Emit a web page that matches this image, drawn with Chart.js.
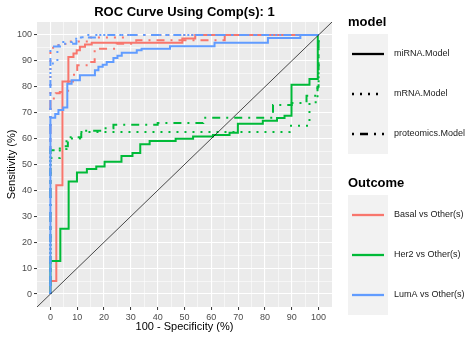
<!DOCTYPE html>
<html>
<head>
<meta charset="utf-8">
<title>ROC Curve</title>
<script src="https://cdn.jsdelivr.net/npm/chart.js@4/dist/chart.umd.min.js"></script>
<style>
  html, body { margin: 0; padding: 0; background: #fff; }
  canvas { display: block; }
</style>
</head>
<body>
<canvas id="roc" width="474" height="338"></canvas>
<script>
// ---- ROC points: 100 - specificity (x) and sensitivity (y), in % ----
const basalMirnaX = [0, 0, 2.2, 4.5, 6.7, 8.6, 9.8, 11, 12.9, 15.4, 49.2, 54, 100];
const basalMirnaY = [0, 5, 42, 82, 91.5, 92.8, 94.1, 95.4, 96.3, 97, 98.6, 100, 100];
const basalMrnaX = [0, 0, 1, 3, 6, 15, 28, 100];
const basalMrnaY = [0, 94, 95.5, 96.5, 97.5, 99, 100, 100];
const basalProtX = [0, 0, 2, 3.5, 6.6, 8.8, 10, 14, 16.5, 24.7, 32, 65, 100];
const basalProtY = [0, 75.5, 77.5, 78, 82, 86.5, 88.3, 89.6, 94.7, 96.6, 98, 100, 100];

const her2MirnaX = [0, 0, 3.7, 6.8, 9.9, 13.6, 17.1, 20.2, 26.5, 30.6, 33.5, 37, 46.7, 53.2, 60.6, 66.8, 69.9, 79.2, 84.5, 87.3, 89.9, 96.6, 99.7, 100];
const her2MirnaY = [0, 12.8, 25.2, 43.4, 46.9, 48.3, 49.2, 51.1, 53.3, 54.4, 57.8, 59.1, 59.9, 60.8, 61.4, 62.3, 65.7, 66.9, 67.9, 68.8, 80.8, 83, 100, 100];
const her2MrnaX = [0, 0, 3.5, 6, 11, 89.2, 96.6, 99.6, 100];
const her2MrnaY = [0, 52.5, 56, 60, 62.5, 65, 74, 80, 100];
const her2ProtX = [0, 0, 3.5, 6.5, 11.5, 20, 23.5, 40, 57, 83, 90, 95.5, 99.6, 100];
const her2ProtY = [0, 55.5, 57, 60.5, 63, 64, 65.3, 66, 68, 73, 73.7, 76.5, 80, 100];

const lumaMirnaX = [0, 0, 1.8, 3, 4.8, 6.3, 7.9, 11, 16.6, 17.9, 19.5, 21, 23.5, 25, 26.6, 32.2, 34, 44.6, 61.2, 81.1, 93.2, 100];
const lumaMirnaY = [0, 68, 69.5, 71, 72, 81.2, 82.5, 84.4, 86.4, 87.7, 88.5, 89.6, 91.1, 92, 93.1, 94.1, 94.7, 95.6, 97, 98.8, 100, 100];
const lumaMrnaX = [0, 0, 2.6, 4.8, 8, 12, 100];
const lumaMrnaY = [0, 89, 96, 97.3, 98.5, 100, 100];
const lumaProtX = [0, 0, 4, 9.7, 18, 100];
const lumaProtY = [0, 95.5, 96.6, 99, 100, 100];

const chanceX = [-5, 105];
const chanceY = [-5, 105];

const outcomes = ['Basal vs Other(s)', 'Her2 vs Other(s)', 'LumA vs Other(s)'];
const outcomeColors = ['#F8766D', '#00BA38', '#619CFF'];
const models = ['miRNA.Model', 'mRNA.Model', 'proteomics.Model'];
const modelDashes = [[], [2, 6], [2, 6, 8, 6]];

const FONT = "'Liberation Sans', Arial, sans-serif";

const toPoints = (xs, ys) => xs.map((x, i) => ({ x, y: ys[i] }));

const curves = [
  [[basalMirnaX, basalMirnaY], [basalMrnaX, basalMrnaY], [basalProtX, basalProtY]],
  [[her2MirnaX, her2MirnaY], [her2MrnaX, her2MrnaY], [her2ProtX, her2ProtY]],
  [[lumaMirnaX, lumaMirnaY], [lumaMrnaX, lumaMrnaY], [lumaProtX, lumaProtY]]
];

const datasets = [{
  label: 'chance',
  data: toPoints(chanceX, chanceY),
  borderColor: '#000',
  borderWidth: 0.7,
  pointRadius: 0,
  order: 0
}];
curves.forEach((group, o) => {
  group.forEach(([xs, ys], m) => {
    datasets.push({
      label: outcomes[o] + ' ' + models[m],
      data: toPoints(xs, ys),
      borderColor: outcomeColors[o],
      borderWidth: 2,
      borderDash: modelDashes[m],
      borderCapStyle: 'butt',
      stepped: 'before',
      pointRadius: 0,
      order: 10 - o
    });
  });
});

const isMajor = v => v % 10 === 0 && v >= 0 && v <= 100;
const gridOpts = {
  color: c => (c.tick && (c.tick.value < 0 || c.tick.value > 100)) ? 'rgba(0,0,0,0)' : '#ffffff',
  lineWidth: c => (c.tick && isMajor(c.tick.value)) ? 1.1 : 0.55,
  tickColor: c => (c.tick && isMajor(c.tick.value)) ? '#333333' : 'rgba(0,0,0,0)',
  tickWidth: 1,
  tickLength: 3
};

// panel background, title and the two legends
const decor = {
  id: 'decor',
  beforeDraw(chart) {
    const { ctx, chartArea: a } = chart;
    ctx.save();
    ctx.fillStyle = '#EBEBEB';
    ctx.fillRect(a.left, a.top, a.right - a.left, a.bottom - a.top);
    ctx.restore();
  },
  afterDraw(chart) {
    const { ctx, chartArea: a } = chart;
    ctx.save();
    ctx.fillStyle = '#000';
    ctx.textBaseline = 'middle';
    ctx.textAlign = 'center';
    ctx.font = 'bold 13px ' + FONT;
    ctx.fillText('ROC Curve Using Comp(s): 1', (a.left + a.right) / 2, 12);

    const lx = 348, keyW = 40, keyH = 40;
    const drawGroup = (title, titleY, labels, strokeFor, dashFor) => {
      ctx.textAlign = 'left';
      ctx.fillStyle = '#000';
      ctx.font = 'bold 13px ' + FONT;
      ctx.fillText(title, lx, titleY);
      const top = titleY + 12;
      ctx.fillStyle = '#F2F2F2';
      ctx.fillRect(lx, top, keyW, keyH * labels.length);
      labels.forEach((lab, i) => {
        const cy = top + keyH * i + keyH / 2;
        ctx.beginPath();
        ctx.setLineDash(dashFor(i));
        ctx.lineCap = 'butt';
        ctx.strokeStyle = strokeFor(i);
        ctx.lineWidth = 2.3;
        ctx.moveTo(lx + 4, cy);
        ctx.lineTo(lx + 36, cy);
        ctx.stroke();
        ctx.setLineDash([]);
        ctx.fillStyle = '#1a1a1a';
        ctx.font = '9px ' + FONT;
        ctx.fillText(lab, lx + 46, cy);
      });
    };
    drawGroup('model', 22, models, () => '#000', i => modelDashes[i]);
    drawGroup('Outcome', 183, outcomes, i => outcomeColors[i], () => []);
    ctx.restore();
  }
};

new Chart(document.getElementById('roc'), {
  type: 'line',
  data: { datasets },
  options: {
    responsive: false,
    animation: false,
    devicePixelRatio: 1,
    layout: { padding: { top: 22, right: 142, left: 0, bottom: 0 } },
    plugins: { legend: { display: false }, tooltip: { enabled: false } },
    scales: {
      x: {
        type: 'linear',
        min: -5,
        max: 105,
        border: { display: false },
        grid: gridOpts,
        ticks: {
          stepSize: 5,
          autoSkip: false,
          maxRotation: 0,
          padding: 2,
          color: '#4D4D4D',
          font: { family: FONT, size: 9 },
          callback: v => isMajor(v) ? v : ''
        },
        title: {
          display: true,
          text: '100 - Specificity (%)',
          color: '#000',
          font: { family: FONT, size: 11 },
          padding: { top: 0, bottom: 4 }
        },
        afterFit: s => { s.height = 31; }
      },
      y: {
        type: 'linear',
        min: -5,
        max: 105,
        border: { display: false },
        grid: gridOpts,
        ticks: {
          stepSize: 5,
          autoSkip: false,
          padding: 2,
          color: '#4D4D4D',
          font: { family: FONT, size: 9 },
          callback: v => isMajor(v) ? v : ''
        },
        title: {
          display: true,
          text: 'Sensitivity (%)',
          color: '#000',
          font: { family: FONT, size: 11 },
          padding: { top: 5, bottom: 0 }
        },
        afterFit: s => { s.width = 37; }
      }
    }
  },
  plugins: [decor]
});
</script>
</body>
</html>
